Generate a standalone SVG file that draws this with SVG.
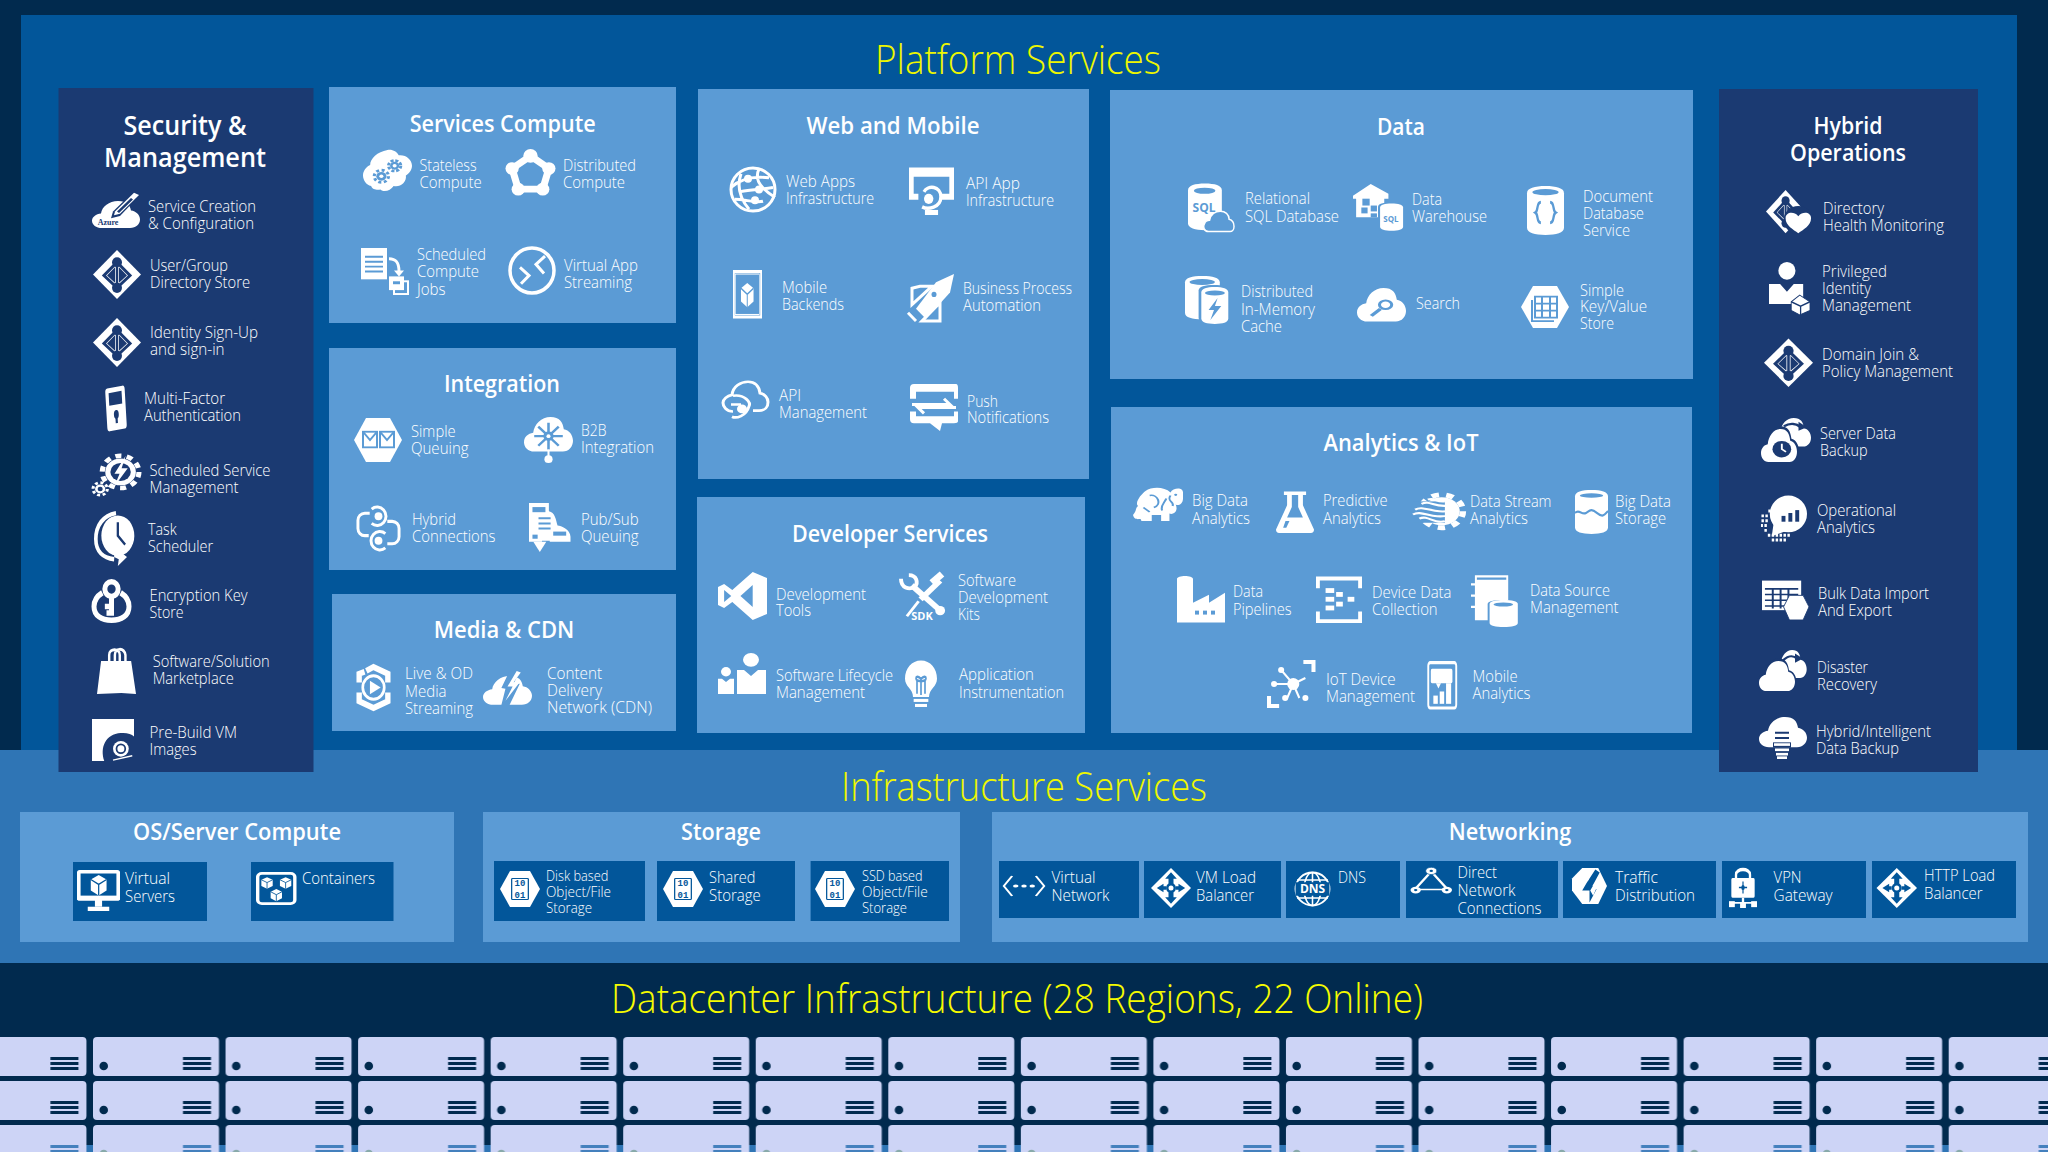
<svg xmlns="http://www.w3.org/2000/svg" width="2048" height="1152" viewBox="0 0 2048 1152">
<style>
symbol{overflow:visible}
.b{fill:#fff}.k{fill:currentColor}
.o{fill:none;stroke:#fff;stroke-width:3}
.x{fill:none;stroke:currentColor;stroke-width:2.5}
.nv{color:#1b3a72}.lt{color:#5b9bd5}.tl{color:#02569a}
.pn{fill:currentColor}
text{font-family:"Open Sans","Noto Sans","Liberation Sans",sans-serif;fill:#fff}
.l{font-size:16px;font-weight:300}
.m{font-size:14px;font-weight:300}
.h{font-size:23px;font-weight:600;text-anchor:middle}
.hb{font-size:27px;font-weight:600;text-anchor:middle}
.t{font-size:41px;font-weight:300;text-anchor:middle;fill:#eef700}
</style>
<defs>
<path id="cl" d="M10 48C4 48 0 42 0 35S4 23 9 22C10 10 17 0 26 0S38 7 39 17C44 18 48 25 48 33S44 48 38 48Z"/>
<path id="cy" d="M0 7C0 2 10 0 24 0S48 2 48 7V41C48 46 38 48 24 48S0 46 0 41Z"/>
<polygon id="hx" points="12,0 36,0 48,24 36,48 12,48 0,24"/>
<g id="cube"><polygon points="24,6 40,14 40,34 24,43 8,34 8,14" fill="#fff"/><path d="M8 14 24 23 40 14M24 23V43" fill="none" stroke="currentColor" stroke-width="2.5"/></g>
<symbol id="ad" viewBox="0 0 48 48" preserveAspectRatio="none"><polygon class="b" points="24,0 48,24 24,48 0,24"/><polygon class="x" style="stroke-width:3" points="24,12 37,25 24,37 11,25"/><path class="x" d="M24 12V37"/><polygon class="k" points="22,17 22,32 14,25"/><polygon class="k" points="26,17 26,32 34,25"/><circle class="k" cx="24" cy="12" r="5"/><circle class="k" cx="24" cy="37" r="5"/></symbol>
<symbol id="azure" viewBox="0 0 48 48" preserveAspectRatio="none"><use href="#cl" class="b" transform="translate(0,12) scale(1,.75)"/><polygon class="k" points="41,0 48,4 28,32 19,35 21,26"/><polygon class="b" points="42,1 47,4 28,29 22,31 23,26"/><polygon class="k" points="39,8 41,10 27,28 25,26"/></symbol>
<symbol id="phone" viewBox="0 0 48 48" preserveAspectRatio="none"><g transform="rotate(-6 24 24)"><rect class="b" x="6" y="2" width="36" height="44" rx="4"/><rect class="k" x="12" y="7" width="24" height="13"/><circle class="k" cx="24" cy="30" r="4.5"/><rect class="k" x="22" y="30" width="4" height="9"/></g></symbol>
<symbol id="gearbolt" viewBox="0 0 48 48" preserveAspectRatio="none"><circle class="b" cx="28" cy="20" r="15"/><circle cx="28" cy="20" r="18" fill="none" stroke="#fff" stroke-width="5" stroke-dasharray="6 5.3"/><circle class="k" cx="28" cy="20" r="10"/><polygon class="b" points="33,2 22,22 27,22 22,36 35,16 29,16"/><circle class="b" cx="8" cy="39" r="5"/><circle cx="8" cy="39" r="7" fill="none" stroke="#fff" stroke-width="3" stroke-dasharray="3 2.5"/><circle class="k" cx="8" cy="39" r="2.5"/></symbol>
<symbol id="clock" viewBox="0 0 48 48" preserveAspectRatio="none"><circle class="b" cx="26" cy="21" r="18"/><path class="o" style="stroke-width:4" d="M24 1C10 3 2 12 2 24c0 11 8 17 20 18"/><path class="x" d="M26 9V21L34 29"/><polygon class="b" points="22,31 36,40 26,48 27,42 22,40"/></symbol>
<symbol id="keyc" viewBox="0 0 48 48" preserveAspectRatio="none"><path class="o" style="stroke-width:6" d="M13 15C6 19 3 25 3 30c0 10 9 15 21 15s21-5 21-15c0-5-3-11-10-15"/><circle class="o" style="stroke-width:6" cx="24" cy="11" r="8"/><path class="o" style="stroke-width:6" d="M24 19V40M24 30H16M24 37H18"/></symbol>
<symbol id="bag" viewBox="0 0 48 48" preserveAspectRatio="none"><polygon class="b" points="5,14 42,14 48,47 30,46 0,47"/><path class="o" style="stroke-width:3" d="M15 18V8C15 1 28 1 28 8V18M22 18V8C22 1 33 0 35 8V15"/></symbol>
<symbol id="vmi" viewBox="0 0 48 48" preserveAspectRatio="none"><rect class="b" width="48" height="48"/><path class="k" d="M14 48C9 33 15 17 33 16 40 15.500 45 17 48 20V48Z"/><circle class="b" cx="33" cy="34" r="9"/><circle class="x" cx="33" cy="34" r="5" style="stroke-width:2"/><path class="o" style="stroke-width:1.500" d="M24 47 46 42"/></symbol>
<symbol id="gcloud" viewBox="0 0 48 48" preserveAspectRatio="none"><path class="b" d="M24 0c5-1 9 2 11 6 7-1 13 5 13 12 0 5-3 9-6 11 1 8-6 14-12 12-3 5-9 8-13 4-3 1-8 0-9-4-5-1-8-7-8-12s3-10 7-12C7 10 14 2 24 0z"/><circle class="k" cx="18" cy="30" r="5"/><circle cx="18" cy="30" r="7" fill="none" stroke="currentColor" stroke-width="3" stroke-dasharray="3 2.5"/><circle class="b" cx="18" cy="30" r="2"/><circle class="k" cx="31" cy="18" r="4.500"/><circle cx="31" cy="18" r="6" fill="none" stroke="currentColor" stroke-width="3" stroke-dasharray="3 1.700"/><circle class="b" cx="31" cy="18" r="2"/></symbol>
<symbol id="penta" viewBox="0 0 48 48" preserveAspectRatio="none"><polygon class="o" style="stroke-width:7" points="24,7 42,20 36,41 12,41 6,20"/><circle class="b" cx="24" cy="7" r="7"/><circle class="b" cx="42" cy="20" r="6.500"/><circle class="b" cx="36" cy="41" r="6.500"/><circle class="b" cx="12" cy="41" r="6.500"/><circle class="b" cx="6" cy="20" r="6.500"/></symbol>
<symbol id="sched" viewBox="0 0 48 48" preserveAspectRatio="none"><rect class="b" width="26" height="32"/><path class="x" style="stroke-width:2" d="M4 9H22M4 14H22M4 19H22M4 24H22"/><path class="o" d="M28 11C36 11 38 16 38 24"/><polygon class="b" points="33,23 43,23 38,29"/><rect class="o" style="stroke-width:2" x="33" y="34" width="14" height="13"/><rect class="b" x="28" y="29" width="15" height="14"/><rect class="k" x="32" y="34" width="7" height="3"/></symbol>
<symbol id="strm" viewBox="0 0 48 48" preserveAspectRatio="none"><circle class="o" style="stroke-width:3.500" cx="24" cy="24" r="22"/><path class="o" d="M12 21 21 29 13 37M37 10 28 18 36 27"/></symbol>
<symbol id="hexq" viewBox="0 0 48 48" preserveAspectRatio="none"><use href="#hx" class="b"/><rect class="x" style="stroke-width:2" x="9" y="15" width="14" height="17"/><rect class="x" style="stroke-width:2" x="26" y="15" width="14" height="17"/><path class="x" style="stroke-width:2" d="M9 15 16 24 23 15M26 15 33 24 40 15"/></symbol>
<symbol id="b2b" viewBox="0 0 48 48" preserveAspectRatio="none"><use href="#cl" class="b" transform="scale(1,.75)"/><circle class="k" cx="24" cy="20" r="5"/><path class="x" d="M24 6V34M10 20H38M14 10 34 30M34 10 14 30"/><circle class="b" cx="24" cy="20" r="2"/><path class="o" d="M24 34V42" style="stroke-width:2"/><circle class="b" cx="24" cy="44" r="4"/></symbol>
<symbol id="hyc" viewBox="0 0 48 48" preserveAspectRatio="none"><path class="o" d="M15 9H10a7 7 0 0 0-7 7v8a7 7 0 0 0 7 7h4M33 17h5a7 7 0 0 1 7 7v8a7 7 0 0 1-7 7h-5"/><path class="o" d="M17 5a9 9 0 1 1 0 14M31 29a9 9 0 1 0 0 14"/><circle class="b" cx="24" cy="12" r="4"/><circle class="b" cx="24" cy="36" r="4"/></symbol>
<symbol id="pubs" viewBox="0 0 48 48" preserveAspectRatio="none"><path class="b" d="M0 0H23V8C30 9 31 16 33 22 37 22 48 26 48 33V38H24V37H15V38H0Z"/><rect class="k" x="4" y="4" width="15" height="5"/><rect class="k" x="4" y="31" width="6" height="4"/><path class="x" style="stroke-width:2" d="M11 15H25M11 20H25M11 25H25"/><rect class="k" x="28" y="28" width="15" height="4"/><polygon class="b" points="5,38 20,38 12.500,48"/></symbol>
<symbol id="play" viewBox="0 0 48 48" preserveAspectRatio="none"><path class="o" style="stroke-width:6" d="M16 7 24 3 40 10V19M40 29V38L24 45 8 38V29M8 19V10L14 8"/><circle class="o" cx="24" cy="24" r="12"/><polygon class="b" points="20,17 32,24 20,31"/></symbol>
<symbol id="cbolt" viewBox="0 0 48 48" preserveAspectRatio="none"><use href="#cl" class="b" transform="translate(0,7) scale(1,.85)"/><polygon class="k" points="26,0 18,24 22,25 18,48 26,48 36,18 30,18 36,0"/><polygon class="b" points="33,0 24,22 29,22 22,42 36,16 30,16 37,2"/></symbol>
<symbol id="glob" viewBox="0 0 48 48" preserveAspectRatio="none"><circle class="o" style="stroke-width:3" cx="24" cy="24" r="22"/><path class="o" style="stroke-width:3" d="M2 22C10 14 22 10 40 12M12 8C8 20 10 32 20 44M30 3C26 12 28 20 46 32M6 34C16 34 26 38 34 36M12 26C22 24 32 24 44 22"/><circle class="b" cx="30" cy="24" r="4"/><circle class="b" cx="26" cy="35" r="4"/><circle class="b" cx="19" cy="13" r="4"/></symbol>
<symbol id="apia" viewBox="0 0 48 48" preserveAspectRatio="none"><path class="b" fill-rule="evenodd" d="M0 0H48V32H33V26H43V9H5V26H10V32H0Z"/><path class="o" style="stroke-width:3.500" d="M16 24C20 17 34 18 34 29S20 42 14 39"/><circle class="b" cx="21" cy="31" r="5"/><rect class="b" x="17" y="42" width="14" height="5"/></symbol>
<symbol id="tablet" viewBox="0 0 48 48" preserveAspectRatio="none"><rect class="o" x="1.500" y="1.500" width="45" height="45"/><rect class="o" style="stroke-width:1" x="4" y="4" width="40" height="40"/><use href="#cube" transform="translate(8,9) scale(.65)"/></symbol>
<symbol id="rock" viewBox="0 0 48 48" preserveAspectRatio="none"><polygon class="b" points="48,0 44,18 20,44 10,34 30,8"/><circle class="k" cx="28" cy="20" r="2.500"/><path class="o" d="M14 12 H26 L6 30V14ZM26 46 H16L34 28 V46ZM2 38 10 46" style="stroke-width:3"/></symbol>
<symbol id="apic" viewBox="0 0 48 48" preserveAspectRatio="none"><path class="o" style="stroke-width:3" d="M12 36C5 36 2 30 2 26S6 18 11 17C12 7 20 2 27 2S38 7 39 15C44 16 47 21 47 25 47 31 44 35 38 35H32"/><path class="o" style="stroke-width:3" d="M12 18C24 16 30 26 28 30 25 42 15 44 11 42M10 28H20"/><circle class="b" cx="21" cy="33" r="5"/></symbol>
<symbol id="push" viewBox="0 0 48 48" preserveAspectRatio="none"><path class="b" d="M4 0H46Q48 0 48 4V15H44V8H6V15H0V4Q0 0 4 0Z"/><path class="b" d="M0 28H6V33H44V28H48V38Q48 40 44 40H32L30 48 20 40H4Q0 40 0 36Z"/><path class="o" d="M2 21H40L34 15M46 24H8L14 30"/></symbol>
<symbol id="vs" viewBox="0 0 48 48" preserveAspectRatio="none"><path class="b" d="M34 0 48 6V42L34 48 14 30 6 36 0 33V15L6 12 14 18Z"/><polygon class="k" points="34,13 22,24 34,35"/><polygon class="k" points="6,18 13,24 6,30"/></symbol>
<symbol id="sdk" viewBox="0 0 48 48" preserveAspectRatio="none"><path class="o" style="stroke-width:6" d="M11 11 38 36"/><path class="o" style="stroke-width:4" d="M0 4C0 14 8 16 14 13M8 0C16 0 18 8 14 13"/><path class="o" style="stroke-width:6" d="M40 6 20 26"/><path class="o" style="stroke-width:3" d="M18 28 6 44"/><rect class="b" x="30" y="0" width="14" height="7" transform="rotate(-42 37 4)"/><circle class="b" cx="40" cy="38" r="5"/></symbol>
<symbol id="ppl" viewBox="0 0 48 48" preserveAspectRatio="none"><ellipse class="b" cx="33" cy="8" rx="8" ry="8"/><path class="b" d="M19 20H26L33 27 40 20H48V48H19Z"/><ellipse class="b" cx="8" cy="22" rx="5" ry="5.500"/><path class="b" d="M0 30H4L8 34 12 30H16V48H0Z"/></symbol>
<symbol id="bulb" viewBox="0 0 48 48" preserveAspectRatio="none"><path class="b" d="M24 0C38 0 48 8 48 18 48 26 36 28 36 36H12C12 28 0 26 0 18 0 8 10 0 24 0Z"/><path class="x" d="M24 34V18M24 18C14 12 14 22 24 20M24 18C34 12 34 22 24 20M18 20V33M30 20V33"/><rect class="b" x="13" y="38" width="22" height="3"/><rect class="b" x="15" y="43" width="18" height="3"/></symbol>
<symbol id="sqlc" viewBox="0 0 48 48" preserveAspectRatio="none"><use href="#cy" class="b" transform="scale(.72,.95)"/><ellipse class="k" cx="17" cy="7" rx="11" ry="3"/><path class="o" style="stroke:#fff;fill:currentColor;stroke-width:1.500" d="M21 47C16 47 15 42 17 39 18 36 20 36 22 36 23 30 28 27 33 27 38 27 42 30 42 35 46 36 47 39 47 42 47 45 45 47 43 47Z"/></symbol>
<symbol id="wh" viewBox="0 0 48 48" preserveAspectRatio="none"><polygon class="b" points="0,12 17,0 34,10 34,15 30,15 30,34 3,34 3,15 0,15"/><rect class="k" x="9" y="15" width="7" height="7"/><rect class="k" x="17" y="22" width="6" height="6"/><rect class="k" x="8" y="24" width="6" height="6"/><rect class="k" x="17" y="30" width="6" height="4"/><use href="#cy" class="k" transform="translate(24,19) scale(.52,.62)"/><use href="#cy" class="b" transform="translate(26,20) scale(.46,.58)"/></symbol>
<symbol id="docc" viewBox="0 0 48 48" preserveAspectRatio="none"><use href="#cy" class="b"/><ellipse class="k" cx="24" cy="6" rx="17" ry="3"/><path class="x" style="stroke-width:3" d="M18 16C12 16 15 24 11 26 15 28 12 36 18 36M30 16C36 16 33 24 37 26 33 28 36 36 30 36"/></symbol>
<symbol id="cachec" viewBox="0 0 48 48" preserveAspectRatio="none"><use href="#cy" class="b" transform="scale(.8,.9)"/><ellipse class="k" cx="19" cy="6" rx="14" ry="3"/><use href="#cy" class="k" transform="translate(15,9) scale(.7,.8)"/><use href="#cy" class="b" transform="translate(18,11) scale(.62,.77)"/><ellipse class="k" cx="33" cy="17" rx="11" ry="2.500"/><polygon class="k" points="36,22 26,34 32,34 28,44 40,30 33,30"/></symbol>
<symbol id="srch" viewBox="0 0 48 48" preserveAspectRatio="none"><use href="#cl" class="b"/><circle class="x" cx="28" cy="24" r="6" style="stroke-width:3"/><path class="x" style="stroke-width:4" d="M23 30 14 40"/></symbol>
<symbol id="tbl" viewBox="0 0 48 48" preserveAspectRatio="none"><use href="#hx" class="b"/><path class="x" style="stroke-width:2" d="M14 12H36V36H14ZM14 20H36M14 28H36M21 12V36M29 12V36M11 16V40H33"/></symbol>
<symbol id="eleph" viewBox="0 0 48 48" preserveAspectRatio="none"><path class="b" d="M12 4C18 -2 30 -2 36 6 38 0 48 -2 48 6V14C48 22 43 24 41 22 44 32 38 36 35 34V44H27V36H18V44H8C8 38 2 46 0 36 4 30 2 26 5 24 1 20 8 8 12 4Z"/><path class="x" style="stroke-width:2" d="M16 10C24 8 28 22 20 26M36 10C32 18 40 18 38 24M10 26 16 32M28 30C26 24 30 20 32 14"/><circle class="k" cx="41" cy="9" r="1.500"/></symbol>
<symbol id="flask" viewBox="0 0 48 48" preserveAspectRatio="none"><path class="b" d="M10 0H38V4H34V16L48 44Q48 48 44 48H4Q0 48 0 44L14 16V4H10Z"/><path class="k" d="M20 4H28V18L34 30H14L20 18Z"/><polygon class="k" points="9,42 12,34 17,34 13,42"/></symbol>
<symbol id="gwave" viewBox="0 0 48 48" preserveAspectRatio="none"><circle class="b" cx="27" cy="24" r="17"/><circle cx="27" cy="24" r="20" fill="none" stroke="#fff" stroke-width="6" stroke-dasharray="7 7"/><path class="k" d="M0 12H30V38H0Z"/><path class="o" style="stroke-width:2.500" d="M14 10C20 6 22 14 30 12M8 15C16 10 20 20 34 17M2 22C10 16 20 28 36 23M0 28C8 22 18 34 34 29M6 33C14 28 20 40 30 36"/></symbol>
<symbol id="cwav" viewBox="0 0 48 48" preserveAspectRatio="none"><use href="#cy" class="b"/><ellipse class="k" cx="24" cy="6" rx="17" ry="2.500"/><path class="x" d="M0 25C6 20 10 28 16 25S24 20 32 25 42 28 48 23"/></symbol>
<symbol id="fact" viewBox="0 0 48 48" preserveAspectRatio="none"><path class="b" d="M0 4C0 0 16 0 16 4V28L32 20V28L48 18V48H0Z"/><rect class="k" x="18" y="36" width="4" height="4"/><rect class="k" x="26" y="36" width="4" height="4"/><rect class="k" x="34" y="36" width="4" height="4"/></symbol>
<symbol id="devd" viewBox="0 0 48 48" preserveAspectRatio="none"><path class="o" style="stroke-width:4" d="M2 12V2H46V12M2 36V46H46V36"/><rect class="b" x="10" y="12" width="9" height="5"/><rect class="b" x="10" y="21" width="9" height="5"/><rect class="b" x="10" y="30" width="9" height="5"/><rect class="b" x="21" y="16" width="7" height="5"/><rect class="b" x="21" y="26" width="7" height="5"/><rect class="b" x="33" y="21" width="7" height="5"/></symbol>
<symbol id="dsrc" viewBox="0 0 48 48" preserveAspectRatio="none"><path class="b" d="M4 2H38V26H25Q20 28 20 32V42H4Z"/><path class="k" d="M6 4 H36 V6 H6Z"/><path class="o" style="stroke-width:2" d="M0 10H6M0 20H6M0 30H6"/><use href="#cy" class="k" transform="translate(17,24) scale(.65,.5)"/><use href="#cy" class="b" transform="translate(19,24) scale(.6,.5)"/><ellipse class="k" cx="33" cy="28" rx="10" ry="1.800"/></symbol>
<symbol id="iot" viewBox="0 0 48 48" preserveAspectRatio="none"><path class="o" style="stroke-width:4" d="M36 2H46V12M2 36V46H12"/><path class="o" style="stroke-width:2" d="M14 10 26 24 8 24M26 24 32 38 M26 24 20 38 M26 24 38 18"/><circle class="b" cx="26" cy="24" r="6"/><circle class="b" cx="14" cy="10" r="3"/><circle class="b" cx="7" cy="24" r="3"/><circle class="b" cx="18" cy="38" r="3"/><circle class="b" cx="38" cy="38" r="3"/></symbol>
<symbol id="mana" viewBox="0 0 48 48" preserveAspectRatio="none"><rect class="o" x="2" y="2" width="44" height="44" rx="3"/><rect class="b" x="6" y="8" width="34" height="14" rx="2"/><polygon class="b" points="14,22 22,22 18,27"/><rect class="b" x="10" y="34" width="7" height="8"/><rect class="b" x="20" y="30" width="7" height="12"/><rect class="b" x="30" y="22" width="8" height="20"/></symbol>
<symbol id="dirh" viewBox="0 0 48 48" preserveAspectRatio="none"><use href="#ad" x="0" y="0" width="40" height="46"/><ellipse cx="33" cy="32" rx="15" ry="15" class="k"/><path class="b" d="M33 46C28 42 20 38 20 30 20 24 28 22 33 28 38 22 46 24 46 30 46 38 38 42 33 46Z"/></symbol>
<symbol id="priv" viewBox="0 0 48 48" preserveAspectRatio="none"><ellipse class="b" cx="21" cy="8" rx="10" ry="8"/><path class="b" d="M0 20H13L21 27 29 20H40V38H0Z"/><polygon class="b" stroke="currentColor" points="36,30 48,36 48,44 36,48 26,44 26,36"/><path class="x" style="stroke-width:1.500" d="M26 36 37 40 48 36M37 40V48"/></symbol>
<symbol id="bkp" viewBox="0 0 48 48" preserveAspectRatio="none"><use href="#cl" class="b" transform="translate(12,0) scale(.75,.65)"/><use href="#cl" class="k" transform="translate(-2,9) scale(.8,.8)"/><use href="#cl" class="b" transform="translate(0,12) scale(.72,.75)"/><circle class="k" cx="20" cy="34" r="9"/><path class="o" style="stroke-width:1.800" d="M20 28V34L24 37"/><path class="x" d="M22 9C28 5 34 6 38 10"/><polygon class="k" points="36,4 44,10 36,14"/></symbol>
<symbol id="opa" viewBox="0 0 48 48" preserveAspectRatio="none"><ellipse class="b" cx="29" cy="19" rx="19" ry="19"/><polygon class="b" points="14,28 12,42 28,36"/><rect class="k" x="22" y="21" width="4" height="6"/><rect class="k" x="29" y="18" width="4" height="9"/><rect class="k" x="36" y="15" width="4" height="12"/><path class="o" style="stroke-width:3;stroke-dasharray:2.500 1.500" d="M11 16H7M8 21H1M8 26H1M7 31H1M7 36H3M8 41H32M12 46H28"/></symbol>
<symbol id="bulk" viewBox="0 0 48 48" preserveAspectRatio="none"><rect class="b" x="0" y="0" width="40" height="36"/><path class="x" style="stroke-width:2" d="M3 10H37M3 17H37M3 24H37M3 31H37M11 10V34M19 10V34M27 10V34"/><polygon class="b" stroke="currentColor" points="28,18 42,18 48,32 42,48 28,48 22,32"/></symbol>
<symbol id="dis" viewBox="0 0 48 48" preserveAspectRatio="none"><use href="#cl" class="b" transform="translate(16,0) scale(.66,.68)"/><use href="#cl" class="k" transform="translate(-2,10) scale(.82,.8)"/><use href="#cl" class="b" transform="translate(0,13) scale(.75,.73)"/><path class="x" d="M24 12C30 6 34 6 38 10"/><polygon class="k" points="36,4 44,10 36,15"/></symbol>
<symbol id="hbk" viewBox="0 0 48 48" preserveAspectRatio="none"><use href="#cl" class="b" transform="scale(1,.72)"/><path class="x" style="stroke-width:2.500" d="M16 18H30M16 24H30"/><rect class="k" x="14" y="29" width="18" height="6"/><rect class="b" x="15" y="30" width="16" height="3"/><rect class="b" x="16" y="36" width="14" height="3"/><rect class="b" x="17" y="41" width="12" height="3"/><rect class="b" x="18" y="45" width="10" height="3"/></symbol>
<symbol id="mon" viewBox="0 0 48 48" preserveAspectRatio="none"><rect class="o" style="stroke-width:4" x="2" y="2" width="44" height="32" rx="1"/><use href="#cube" transform="translate(11,2) scale(.55,.65)"/><rect class="b" x="0" y="30" width="48" height="5"/><rect class="b" x="20" y="35" width="8" height="8"/><rect class="b" x="12" y="43" width="24" height="5"/></symbol>
<symbol id="cont" viewBox="0 0 48 48" preserveAspectRatio="none"><rect class="o" style="stroke-width:4" x="2" y="2" width="44" height="44" rx="5"/><use href="#cube" transform="translate(3,5) scale(.42,.45)"/><use href="#cube" transform="translate(25,5) scale(.42,.45)"/><use href="#cube" transform="translate(14,22) scale(.42,.48)"/></symbol>
<symbol id="hexd" viewBox="0 0 48 48" preserveAspectRatio="none"><use href="#hx" class="b"/><rect class="x" style="stroke-width:1.500" x="14" y="10" width="20" height="28" rx="1"/></symbol>
<symbol id="vnet" viewBox="0 0 48 48" preserveAspectRatio="none"><path class="o" style="stroke-width:2.500" d="M11 4 2 24 11 44M37 4 46 24 37 44"/><circle class="b" cx="15" cy="24" r="3"/><circle class="b" cx="24" cy="24" r="3"/><circle class="b" cx="33" cy="24" r="3"/></symbol>
<symbol id="lb" viewBox="0 0 48 48" preserveAspectRatio="none"><polygon class="b" points="24,0 48,24 24,48 0,24"/><circle class="k" cx="24" cy="24" r="6"/><circle class="b" cx="24" cy="24" r="3"/><path class="k" d="M24 5 31 13H27V20H21V13H17ZM24 43 17 35H21V28H27V35H31ZM7 24 15 19V22H18V26H15V29ZM41 24 33 19V22H30V26H33V29Z"/></symbol>
<symbol id="dnsg" viewBox="0 0 48 48" preserveAspectRatio="none"><circle class="o" style="stroke-width:2.500" cx="24" cy="24" r="22"/><ellipse class="o" style="stroke-width:2" cx="24" cy="24" rx="11" ry="22"/><path class="o" style="stroke-width:2" d="M24 2V46M4 12H44M4 36H44"/><rect class="k" x="2" y="15" width="44" height="18"/></symbol>
<symbol id="tri" viewBox="0 0 48 48" preserveAspectRatio="none"><polygon class="o" style="stroke-width:3" points="24,8 43,40 5,40"/><circle class="b" stroke="currentColor" cx="24" cy="7" r="6.500"/><circle class="b" cx="6" cy="41" r="6"/><circle class="b" cx="42" cy="41" r="6"/><circle class="k" cx="24" cy="7" r="2"/><circle class="k" cx="6" cy="41" r="2"/><circle class="k" cx="42" cy="41" r="2"/></symbol>
<symbol id="trf" viewBox="0 0 48 48" preserveAspectRatio="none"><polygon class="b" points="14,0 36,0 48,24 36,48 14,48 0,30 0,14"/><path class="k" d="M20 20 32 2 38 6 28 24 36 24 24 46 24 30 14 30Z"/><path class="b" d="M31 20 44 26 42 32 33 28 29 37 25 30Z"/><path class="b" d="M20 8 23 16 15 20 9 16Z"/></symbol>
<symbol id="vpn" viewBox="0 0 48 48" preserveAspectRatio="none"><path class="o" style="stroke-width:4" d="M12 15V9C12 1 36 1 36 9V15"/><rect class="b" x="4" y="13" width="40" height="23" rx="2"/><circle class="k" cx="24" cy="24" r="3"/><path class="x" style="stroke-width:2" d="M24 17V31M17 24H31"/><rect class="b" x="22" y="36" width="4" height="6"/><rect class="b" x="2" y="41" width="44" height="2"/><rect class="b" x="0" y="40" width="10" height="7"/><rect class="b" x="19" y="41" width="10" height="7"/><rect class="b" x="38" y="40" width="10" height="7"/></symbol>
<pattern id="srv" patternUnits="userSpaceOnUse" x="-39.550" y="1037" width="132.550" height="44">
<rect width="126" height="39" rx="4" fill="#cdd4f6"/><circle cx="10.700" cy="29" r="4.300" fill="#012a4e"/><path d="M90 21.500H118M90 26.500H118M90 31.500H118" stroke="#012a4e" stroke-width="3"/>
</pattern>
<pattern id="srv2" patternUnits="userSpaceOnUse" x="-39.550" y="1037" width="132.550" height="44">
<rect width="126" height="39" rx="4" fill="#cdd4f6"/><circle cx="10.700" cy="29" r="4.300" fill="#8aa"/><path d="M90 21.500H118M90 26.500H118M90 31.500H118" stroke="#4480bd" stroke-width="3"/>
</pattern>
</defs>

<rect width="2048" height="1152" fill="#012a4e"/>
<rect id="platform" x="21" y="15" width="1996" height="735" fill="#02569a"/>
<rect id="infraband" x="0" y="750" width="2048" height="213" fill="#2f75b5"/>
<rect x="0" y="1145" width="2048" height="7" fill="#2f75b5"/>
<g id="servers"><rect x="0" y="1037" width="2048" height="108" fill="url(#srv)"/><rect x="0" y="1145" width="2048" height="7" fill="url(#srv2)"/></g>

<text class="t" x="1018" y="74" textLength="286" lengthAdjust="spacingAndGlyphs">Platform Services</text>
<text class="t" x="1024" y="801" textLength="366" lengthAdjust="spacingAndGlyphs">Infrastructure Services</text>
<text class="t" style="fill:#f5fb00" x="1017" y="1013" textLength="812" lengthAdjust="spacingAndGlyphs">Datacenter Infrastructure (28 Regions, 22 Online)</text>

<g id="security" class="nv">
<rect class="pn" x="58.500" y="88" width="255" height="684"/>
<text class="hb" x="185" y="135" textLength="123" lengthAdjust="spacingAndGlyphs">Security &amp;</text>
<text class="hb" x="185" y="167" textLength="162" lengthAdjust="spacingAndGlyphs">Management</text>
<g id="n-service-creation"><use href="#azure" x="92" y="192" width="48" height="36"/><text x="108" y="225" style="font:700 8px 'Liberation Serif',serif;fill:currentColor;text-anchor:middle">Azure</text><text class="l" x="148" y="212" textLength="108" lengthAdjust="spacingAndGlyphs">Service Creation</text><text class="l" x="148" y="229" textLength="106" lengthAdjust="spacingAndGlyphs">&amp; Configuration</text></g>
<g id="n-user-group"><use href="#ad" x="93" y="250" width="48" height="49"/><text class="l" x="150" y="271" textLength="78" lengthAdjust="spacingAndGlyphs">User/Group</text><text class="l" x="150" y="288" textLength="100" lengthAdjust="spacingAndGlyphs">Directory Store</text></g>
<g id="n-identity"><use href="#ad" x="93" y="318" width="48" height="49"/><text class="l" x="150" y="338" textLength="108" lengthAdjust="spacingAndGlyphs">Identity Sign-Up</text><text class="l" x="150" y="355" textLength="74.500" lengthAdjust="spacingAndGlyphs">and sign-in</text></g>
<g id="n-mfa"><use href="#phone" x="103" y="385" width="26" height="47"/><text class="l" x="144" y="404" textLength="81" lengthAdjust="spacingAndGlyphs">Multi-Factor</text><text class="l" x="144" y="421" textLength="97" lengthAdjust="spacingAndGlyphs">Authentication</text></g>
<g id="n-sched-service"><use href="#gearbolt" x="92" y="454" width="49" height="43"/><text class="l" x="149.500" y="475.500" textLength="121" lengthAdjust="spacingAndGlyphs">Scheduled Service</text><text class="l" x="149.500" y="492.500" textLength="89" lengthAdjust="spacingAndGlyphs">Management</text></g>
<g id="n-task"><use href="#clock" x="94" y="512" width="44" height="54"/><text class="l" x="148" y="535" textLength="28.600" lengthAdjust="spacingAndGlyphs">Task</text><text class="l" x="148" y="552" textLength="65" lengthAdjust="spacingAndGlyphs">Scheduler</text></g>
<g id="n-key"><use href="#keyc" x="91.500" y="579" width="40" height="44"/><text class="l" x="149.500" y="601" textLength="98" lengthAdjust="spacingAndGlyphs">Encryption Key</text><text class="l" x="149.500" y="618" textLength="34" lengthAdjust="spacingAndGlyphs">Store</text></g>
<g id="n-market"><use href="#bag" x="97" y="647" width="39" height="48"/><text class="l" x="152.700" y="667" textLength="117" lengthAdjust="spacingAndGlyphs">Software/Solution</text><text class="l" x="152.700" y="684" textLength="81" lengthAdjust="spacingAndGlyphs">Marketplace</text></g>
<g id="n-vm-images"><use href="#vmi" x="92" y="719" width="42" height="42"/><text class="l" x="149.500" y="738" textLength="87.500" lengthAdjust="spacingAndGlyphs">Pre-Build VM</text><text class="l" x="149.500" y="755" textLength="47" lengthAdjust="spacingAndGlyphs">Images</text></g>
</g>

<g id="services-compute" class="lt">
<rect class="pn" x="329" y="87" width="347" height="236"/>
<text class="h" x="502.700" y="132" textLength="186" lengthAdjust="spacingAndGlyphs">Services Compute</text>
<g id="n-stateless"><use href="#gcloud" x="363" y="150" width="49" height="42"/><text class="l" x="419.600" y="171" textLength="57" lengthAdjust="spacingAndGlyphs">Stateless</text><text class="l" x="419.600" y="188" textLength="62" lengthAdjust="spacingAndGlyphs">Compute</text></g>
<g id="n-distributed"><use href="#penta" x="506" y="149" width="49" height="47"/><text class="l" x="563" y="171" textLength="73" lengthAdjust="spacingAndGlyphs">Distributed</text><text class="l" x="563" y="188" textLength="62" lengthAdjust="spacingAndGlyphs">Compute</text></g>
<g id="n-scheduled"><use href="#sched" x="361" y="248" width="48" height="47"/><text class="l" x="417" y="260" textLength="69" lengthAdjust="spacingAndGlyphs">Scheduled</text><text class="l" x="417" y="277" textLength="62" lengthAdjust="spacingAndGlyphs">Compute</text><text class="l" x="417" y="295" textLength="28.600" lengthAdjust="spacingAndGlyphs">Jobs</text></g>
<g id="n-virtual-app"><use href="#strm" x="508" y="246" width="48" height="49"/><text class="l" x="564" y="271" textLength="74" lengthAdjust="spacingAndGlyphs">Virtual App</text><text class="l" x="564" y="288" textLength="68" lengthAdjust="spacingAndGlyphs">Streaming</text></g>
</g>

<g id="integration" class="lt">
<rect class="pn" x="329" y="348" width="347" height="222"/>
<text class="h" x="502" y="392" textLength="116" lengthAdjust="spacingAndGlyphs">Integration</text>
<g id="n-simple-q"><use href="#hexq" x="354" y="418" width="48" height="44"/><text class="l" x="411" y="437" textLength="44.600" lengthAdjust="spacingAndGlyphs">Simple</text><text class="l" x="411" y="454" textLength="57.600" lengthAdjust="spacingAndGlyphs">Queuing</text></g>
<g id="n-b2b"><use href="#b2b" x="524" y="417" width="49" height="46"/><text class="l" x="581" y="436" textLength="25.400" lengthAdjust="spacingAndGlyphs">B2B</text><text class="l" x="581" y="453" textLength="73" lengthAdjust="spacingAndGlyphs">Integration</text></g>
<g id="n-hybrid-conn"><use href="#hyc" x="355" y="504" width="47" height="49"/><text class="l" x="412" y="525" textLength="44" lengthAdjust="spacingAndGlyphs">Hybrid</text><text class="l" x="412" y="542" textLength="83.500" lengthAdjust="spacingAndGlyphs">Connections</text></g>
<g id="n-pubsub"><use href="#pubs" x="529" y="503" width="41.500" height="49"/><text class="l" x="581" y="525" textLength="57.600" lengthAdjust="spacingAndGlyphs">Pub/Sub</text><text class="l" x="581" y="542" textLength="57.600" lengthAdjust="spacingAndGlyphs">Queuing</text></g>
</g>

<g id="media-cdn" class="lt">
<rect class="pn" x="332" y="594" width="344" height="137"/>
<text class="h" x="504" y="638" textLength="140.600" lengthAdjust="spacingAndGlyphs">Media &amp; CDN</text>
<g id="n-live"><use href="#play" x="352" y="664" width="43" height="47"/><text class="l" x="405" y="679" textLength="68" lengthAdjust="spacingAndGlyphs">Live &amp; OD</text><text class="l" x="405" y="697" textLength="41.500" lengthAdjust="spacingAndGlyphs">Media</text><text class="l" x="405" y="714" textLength="68" lengthAdjust="spacingAndGlyphs">Streaming</text></g>
<g id="n-cdn"><use href="#cbolt" x="483" y="671" width="49" height="34"/><text class="l" x="547" y="679" textLength="55" lengthAdjust="spacingAndGlyphs">Content</text><text class="l" x="547" y="696" textLength="55" lengthAdjust="spacingAndGlyphs">Delivery</text><text class="l" x="547" y="713" textLength="105" lengthAdjust="spacingAndGlyphs">Network (CDN)</text></g>
</g>

<g id="web-mobile" class="lt">
<rect class="pn" x="698" y="89" width="391" height="390"/>
<text class="h" x="893" y="134" textLength="173" lengthAdjust="spacingAndGlyphs">Web and Mobile</text>
<g id="n-web-apps"><use href="#glob" x="729" y="166" width="48" height="47"/><text class="l" x="786" y="187" textLength="69" lengthAdjust="spacingAndGlyphs">Web Apps</text><text class="l" x="786" y="204" textLength="88" lengthAdjust="spacingAndGlyphs">Infrastructure</text></g>
<g id="n-api-app"><use href="#apia" x="909" y="167.600" width="45" height="48.400"/><text class="l" x="966" y="189" textLength="54" lengthAdjust="spacingAndGlyphs">API App</text><text class="l" x="966" y="206" textLength="88" lengthAdjust="spacingAndGlyphs">Infrastructure</text></g>
<g id="n-mobile"><use href="#tablet" x="733" y="270" width="29" height="48.500"/><text class="l" x="782" y="293" textLength="45" lengthAdjust="spacingAndGlyphs">Mobile</text><text class="l" x="782" y="310" textLength="62" lengthAdjust="spacingAndGlyphs">Backends</text></g>
<g id="n-bpa"><use href="#rock" x="906" y="274" width="48" height="49"/><text class="l" x="963" y="294" textLength="109" lengthAdjust="spacingAndGlyphs">Business Process</text><text class="l" x="963" y="311" textLength="78" lengthAdjust="spacingAndGlyphs">Automation</text></g>
<g id="n-api-mgmt"><use href="#apic" x="721" y="380" width="48" height="42"/><text class="l" x="779" y="401" textLength="22" lengthAdjust="spacingAndGlyphs">API</text><text class="l" x="779" y="418" textLength="88" lengthAdjust="spacingAndGlyphs">Management</text></g>
<g id="n-push"><use href="#push" x="910" y="384" width="48" height="47"/><text class="l" x="967" y="406.500" textLength="31" lengthAdjust="spacingAndGlyphs">Push</text><text class="l" x="967" y="423.400" textLength="82" lengthAdjust="spacingAndGlyphs">Notifications</text></g>
</g>

<g id="developer" class="lt">
<rect class="pn" x="697" y="497" width="388" height="236"/>
<text class="h" x="890" y="541.500" textLength="196" lengthAdjust="spacingAndGlyphs">Developer Services</text>
<g id="n-devtools"><use href="#vs" x="718" y="572" width="49" height="48"/><text class="l" x="776" y="599.500" textLength="90" lengthAdjust="spacingAndGlyphs">Development</text><text class="l" x="776" y="616" textLength="35" lengthAdjust="spacingAndGlyphs">Tools</text></g>
<g id="n-sdk"><use href="#sdk" x="901" y="575" width="47" height="45"/><text x="922" y="620" style="font:700 11px 'Open Sans',sans-serif;fill:#fff;text-anchor:middle">SDK</text><text class="l" x="958" y="586" textLength="58" lengthAdjust="spacingAndGlyphs">Software</text><text class="l" x="958" y="603" textLength="90" lengthAdjust="spacingAndGlyphs">Development</text><text class="l" x="958" y="620" textLength="22" lengthAdjust="spacingAndGlyphs">Kits</text></g>
<g id="n-slm"><use href="#ppl" x="718" y="653" width="48" height="41"/><text class="l" x="776" y="680.600" textLength="117" lengthAdjust="spacingAndGlyphs">Software Lifecycle</text><text class="l" x="776" y="698" textLength="89" lengthAdjust="spacingAndGlyphs">Management</text></g>
<g id="n-instr"><use href="#bulb" x="905" y="660.600" width="32" height="48.400"/><text class="l" x="959" y="680" textLength="75" lengthAdjust="spacingAndGlyphs">Application</text><text class="l" x="959" y="697.500" textLength="105" lengthAdjust="spacingAndGlyphs">Instrumentation</text></g>
</g>

<g id="data" class="lt">
<rect class="pn" x="1110" y="90" width="583" height="289"/>
<text class="h" x="1401" y="135" textLength="48" lengthAdjust="spacingAndGlyphs">Data</text>
<g id="n-sql"><use href="#sqlc" x="1188" y="183.600" width="47" height="49"/><text x="1204" y="212" style="font:700 12px 'Open Sans',sans-serif;fill:currentColor;text-anchor:middle">SQL</text><text class="l" x="1245" y="204" textLength="65" lengthAdjust="spacingAndGlyphs">Relational</text><text class="l" x="1245" y="222" textLength="94" lengthAdjust="spacingAndGlyphs">SQL Database</text></g>
<g id="n-warehouse"><use href="#wh" x="1353" y="184" width="50" height="47"/><text x="1391" y="222" style="font:700 8px 'Open Sans',sans-serif;fill:currentColor;text-anchor:middle">SQL</text><text class="l" x="1412" y="205" textLength="30" lengthAdjust="spacingAndGlyphs">Data</text><text class="l" x="1412" y="222" textLength="75" lengthAdjust="spacingAndGlyphs">Warehouse</text></g>
<g id="n-docdb"><use href="#docc" x="1527" y="186" width="37" height="49"/><text class="l" x="1583" y="202" textLength="70" lengthAdjust="spacingAndGlyphs">Document</text><text class="l" x="1583" y="219" textLength="61" lengthAdjust="spacingAndGlyphs">Database</text><text class="l" x="1583" y="236" textLength="47" lengthAdjust="spacingAndGlyphs">Service</text></g>
<g id="n-cache"><use href="#cachec" x="1185" y="276" width="43.500" height="48"/><text class="l" x="1241" y="297" textLength="72" lengthAdjust="spacingAndGlyphs">Distributed</text><text class="l" x="1241" y="314.600" textLength="74" lengthAdjust="spacingAndGlyphs">In-Memory</text><text class="l" x="1241" y="331.500" textLength="41" lengthAdjust="spacingAndGlyphs">Cache</text></g>
<g id="n-search"><use href="#srch" x="1357" y="288" width="49" height="33.500"/><text class="l" x="1416" y="308.500" textLength="44" lengthAdjust="spacingAndGlyphs">Search</text></g>
<g id="n-kv"><use href="#tbl" x="1521" y="286" width="48" height="42"/><text class="l" x="1580" y="295.500" textLength="44" lengthAdjust="spacingAndGlyphs">Simple</text><text class="l" x="1580" y="312.400" textLength="67" lengthAdjust="spacingAndGlyphs">Key/Value</text><text class="l" x="1580" y="329" textLength="34" lengthAdjust="spacingAndGlyphs">Store</text></g>
</g>

<g id="analytics" class="lt">
<rect class="pn" x="1111" y="407" width="581" height="326"/>
<text class="h" x="1401" y="451" textLength="155" lengthAdjust="spacingAndGlyphs">Analytics &amp; IoT</text>
<g id="n-bigdata"><use href="#eleph" x="1133" y="488" width="50" height="36"/><text class="l" x="1192" y="506" textLength="56" lengthAdjust="spacingAndGlyphs">Big Data</text><text class="l" x="1192" y="523.600" textLength="58" lengthAdjust="spacingAndGlyphs">Analytics</text></g>
<g id="n-predictive"><use href="#flask" x="1276" y="491.500" width="38" height="41.500"/><text class="l" x="1323" y="506" textLength="64.500" lengthAdjust="spacingAndGlyphs">Predictive</text><text class="l" x="1323" y="523.600" textLength="58" lengthAdjust="spacingAndGlyphs">Analytics</text></g>
<g id="n-stream"><use href="#gwave" x="1413" y="491.500" width="51" height="39.500"/><text class="l" x="1470" y="507" textLength="81.500" lengthAdjust="spacingAndGlyphs">Data Stream</text><text class="l" x="1470" y="524" textLength="58" lengthAdjust="spacingAndGlyphs">Analytics</text></g>
<g id="n-bigstorage"><use href="#cwav" x="1575" y="490" width="33" height="44"/><text class="l" x="1615" y="507" textLength="56" lengthAdjust="spacingAndGlyphs">Big Data</text><text class="l" x="1615" y="524" textLength="51" lengthAdjust="spacingAndGlyphs">Storage</text></g>
<g id="n-pipelines"><use href="#fact" x="1177" y="575" width="48" height="47.500"/><text class="l" x="1233" y="597" textLength="30" lengthAdjust="spacingAndGlyphs">Data</text><text class="l" x="1233" y="614.700" textLength="58.500" lengthAdjust="spacingAndGlyphs">Pipelines</text></g>
<g id="n-devicedata"><use href="#devd" x="1316" y="576.500" width="46" height="46.500"/><text class="l" x="1372" y="598" textLength="79.500" lengthAdjust="spacingAndGlyphs">Device Data</text><text class="l" x="1372" y="614.700" textLength="65.600" lengthAdjust="spacingAndGlyphs">Collection</text></g>
<g id="n-datasource"><use href="#dsrc" x="1471" y="573" width="47" height="54"/><text class="l" x="1530" y="595.600" textLength="80" lengthAdjust="spacingAndGlyphs">Data Source</text><text class="l" x="1530" y="612.500" textLength="88.600" lengthAdjust="spacingAndGlyphs">Management</text></g>
<g id="n-iot"><use href="#iot" x="1267" y="660" width="48.500" height="48"/><text class="l" x="1326" y="685" textLength="69.600" lengthAdjust="spacingAndGlyphs">IoT Device</text><text class="l" x="1326" y="702" textLength="89" lengthAdjust="spacingAndGlyphs">Management</text></g>
<g id="n-mobile-an"><use href="#mana" x="1427" y="660.600" width="30.500" height="49.400"/><text class="l" x="1472.500" y="682" textLength="45" lengthAdjust="spacingAndGlyphs">Mobile</text><text class="l" x="1472.500" y="699" textLength="58" lengthAdjust="spacingAndGlyphs">Analytics</text></g>
</g>

<g id="hybrid" class="nv">
<rect class="pn" x="1719" y="89" width="259" height="683"/>
<text class="h" x="1848" y="133.500" textLength="69" lengthAdjust="spacingAndGlyphs">Hybrid</text>
<text class="h" x="1848" y="160.500" textLength="116" lengthAdjust="spacingAndGlyphs">Operations</text>
<g id="n-dirhealth"><use href="#dirh" x="1766" y="190" width="47" height="45"/><text class="l" x="1823" y="214" textLength="61" lengthAdjust="spacingAndGlyphs">Directory</text><text class="l" x="1823" y="231" textLength="121" lengthAdjust="spacingAndGlyphs">Health Monitoring</text></g>
<g id="n-priv"><use href="#priv" x="1769" y="262" width="41" height="53"/><text class="l" x="1822" y="276.600" textLength="65" lengthAdjust="spacingAndGlyphs">Privileged</text><text class="l" x="1822" y="293.600" textLength="49" lengthAdjust="spacingAndGlyphs">Identity</text><text class="l" x="1822" y="310.600" textLength="89" lengthAdjust="spacingAndGlyphs">Management</text></g>
<g id="n-domain"><use href="#ad" x="1764" y="338.600" width="49" height="48.400"/><text class="l" x="1822" y="359.700" textLength="97" lengthAdjust="spacingAndGlyphs">Domain Join &amp;</text><text class="l" x="1822" y="376.700" textLength="131" lengthAdjust="spacingAndGlyphs">Policy Management</text></g>
<g id="n-backup"><use href="#bkp" x="1761" y="418" width="50" height="44"/><text class="l" x="1820" y="438.700" textLength="76" lengthAdjust="spacingAndGlyphs">Server Data</text><text class="l" x="1820" y="455.700" textLength="47.700" lengthAdjust="spacingAndGlyphs">Backup</text></g>
<g id="n-opanalytics"><use href="#opa" x="1760" y="495.600" width="47" height="46.400"/><text class="l" x="1817" y="516" textLength="79" lengthAdjust="spacingAndGlyphs">Operational</text><text class="l" x="1817" y="533" textLength="58" lengthAdjust="spacingAndGlyphs">Analytics</text></g>
<g id="n-bulk"><use href="#bulk" x="1762" y="580.600" width="47" height="39.400"/><text class="l" x="1818" y="598.500" textLength="111" lengthAdjust="spacingAndGlyphs">Bulk Data Import</text><text class="l" x="1818" y="615.500" textLength="74" lengthAdjust="spacingAndGlyphs">And Export</text></g>
<g id="n-disaster"><use href="#dis" x="1759" y="650" width="48" height="41"/><text class="l" x="1817" y="673" textLength="51" lengthAdjust="spacingAndGlyphs">Disaster</text><text class="l" x="1817" y="690" textLength="60" lengthAdjust="spacingAndGlyphs">Recovery</text></g>
<g id="n-hybridbackup"><use href="#hbk" x="1759" y="717" width="48" height="42"/><text class="l" x="1816" y="737" textLength="115" lengthAdjust="spacingAndGlyphs">Hybrid/Intelligent</text><text class="l" x="1816" y="754" textLength="83" lengthAdjust="spacingAndGlyphs">Data Backup</text></g>
</g>

<g id="os-compute" class="lt">
<rect class="pn" x="20" y="812" width="434" height="130"/>
<text class="h" x="237" y="840" textLength="208" lengthAdjust="spacingAndGlyphs">OS/Server Compute</text>
<g class="tl">
<g id="n-virtual-servers"><rect class="pn" x="73" y="862" width="134" height="59"/><use href="#mon" x="77" y="870" width="43" height="41"/><text class="l" x="125" y="884" textLength="45" lengthAdjust="spacingAndGlyphs">Virtual</text><text class="l" x="125" y="902" textLength="50" lengthAdjust="spacingAndGlyphs">Servers</text></g>
<g id="n-containers"><rect class="pn" x="251" y="862" width="142.500" height="59"/><use href="#cont" x="256" y="872" width="40.500" height="33"/><text class="l" x="302" y="883.700" textLength="73" lengthAdjust="spacingAndGlyphs">Containers</text></g>
</g></g>

<g id="storage" class="lt">
<rect class="pn" x="483" y="812" width="477" height="130"/>
<text class="h" x="721" y="840" textLength="80" lengthAdjust="spacingAndGlyphs">Storage</text>
<g class="tl">
<g id="n-disk"><rect class="pn" x="494" y="861" width="151" height="60"/><use href="#hexd" x="500" y="871" width="40" height="36"/><text x="520" y="886" style="font:700 9px 'Liberation Mono',monospace;fill:currentColor;text-anchor:middle">10</text><text x="520" y="898" style="font:700 9px 'Liberation Mono',monospace;fill:currentColor;text-anchor:middle">01</text><text class="m" x="546" y="880.700" textLength="62.500" lengthAdjust="spacingAndGlyphs">Disk based</text><text class="m" x="546" y="896.700" textLength="65" lengthAdjust="spacingAndGlyphs">Object/File</text><text class="m" x="546" y="912.700" textLength="46" lengthAdjust="spacingAndGlyphs">Storage</text></g>
<g id="n-shared"><rect class="pn" x="657" y="861" width="138" height="60"/><use href="#hexd" x="663" y="871" width="40" height="36"/><text x="683" y="886" style="font:700 9px 'Liberation Mono',monospace;fill:currentColor;text-anchor:middle">10</text><text x="683" y="898" style="font:700 9px 'Liberation Mono',monospace;fill:currentColor;text-anchor:middle">01</text><text class="l" x="709" y="882.700" textLength="46.500" lengthAdjust="spacingAndGlyphs">Shared</text><text class="l" x="709" y="900.700" textLength="51.700" lengthAdjust="spacingAndGlyphs">Storage</text></g>
<g id="n-ssd"><rect class="pn" x="810.600" y="861" width="138.400" height="60"/><use href="#hexd" x="815" y="871" width="40" height="36"/><text x="835" y="886" style="font:700 9px 'Liberation Mono',monospace;fill:currentColor;text-anchor:middle">10</text><text x="835" y="898" style="font:700 9px 'Liberation Mono',monospace;fill:currentColor;text-anchor:middle">01</text><text class="m" x="862" y="880.700" textLength="60.600" lengthAdjust="spacingAndGlyphs">SSD based</text><text class="m" x="862" y="896.700" textLength="65.700" lengthAdjust="spacingAndGlyphs">Object/File</text><text class="m" x="862" y="912.700" textLength="45" lengthAdjust="spacingAndGlyphs">Storage</text></g>
</g></g>

<g id="networking" class="lt">
<rect class="pn" x="992" y="812" width="1036" height="130"/>
<text class="h" x="1510" y="840" textLength="122.600" lengthAdjust="spacingAndGlyphs">Networking</text>
<g class="tl">
<g id="n-vnet"><rect class="pn" x="999" y="861" width="140" height="57"/><use href="#vnet" x="1002" y="874" width="44" height="24"/><text class="l" x="1051.500" y="882.700" textLength="44" lengthAdjust="spacingAndGlyphs">Virtual</text><text class="l" x="1051.500" y="900.700" textLength="58" lengthAdjust="spacingAndGlyphs">Network</text></g>
<g id="n-vmlb"><rect class="pn" x="1144" y="861" width="137" height="57"/><use href="#lb" x="1151" y="868" width="40" height="40"/><text class="l" x="1196" y="882.700" textLength="60" lengthAdjust="spacingAndGlyphs">VM Load</text><text class="l" x="1196" y="900.700" textLength="58" lengthAdjust="spacingAndGlyphs">Balancer</text></g>
<g id="n-dns"><rect class="pn" x="1286" y="861" width="114" height="57"/><use href="#dnsg" x="1294" y="871" width="37" height="36"/><text x="1312.500" y="893" style="font:700 12px 'Open Sans',sans-serif;fill:#fff;text-anchor:middle">DNS</text><text class="l" x="1338" y="882.700" textLength="28" lengthAdjust="spacingAndGlyphs">DNS</text></g>
<g id="n-direct"><rect class="pn" x="1406" y="861" width="152" height="57"/><use href="#tri" x="1410.500" y="867" width="41.500" height="27"/><text class="l" x="1457.500" y="878" textLength="39.500" lengthAdjust="spacingAndGlyphs">Direct</text><text class="l" x="1457.500" y="896" textLength="58" lengthAdjust="spacingAndGlyphs">Network</text><text class="l" x="1457.500" y="914" textLength="84" lengthAdjust="spacingAndGlyphs">Connections</text></g>
<g id="n-traffic"><rect class="pn" x="1563" y="861" width="153" height="57"/><use href="#trf" x="1572" y="868" width="35" height="36"/><text class="l" x="1615" y="882.700" textLength="43" lengthAdjust="spacingAndGlyphs">Traffic</text><text class="l" x="1615" y="900.700" textLength="80" lengthAdjust="spacingAndGlyphs">Distribution</text></g>
<g id="n-vpn"><rect class="pn" x="1722" y="861" width="144" height="57"/><use href="#vpn" x="1729" y="867" width="28" height="41"/><text class="l" x="1773.600" y="882.700" textLength="28" lengthAdjust="spacingAndGlyphs">VPN</text><text class="l" x="1773.600" y="900.700" textLength="59" lengthAdjust="spacingAndGlyphs">Gateway</text></g>
<g id="n-http"><rect class="pn" x="1872" y="861" width="144" height="57"/><use href="#lb" x="1876.500" y="868" width="40.500" height="40"/><text class="l" x="1924" y="881" textLength="71" lengthAdjust="spacingAndGlyphs">HTTP Load</text><text class="l" x="1924" y="899" textLength="58.600" lengthAdjust="spacingAndGlyphs">Balancer</text></g>
</g></g>
</svg>
